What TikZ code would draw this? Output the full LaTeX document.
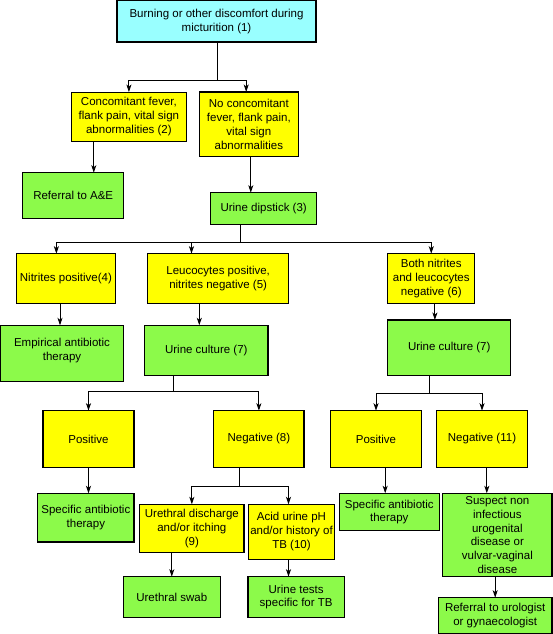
\documentclass[tikz,border=0pt]{standalone}
\usepackage{fontspec}
\setmainfont{Liberation Sans}
\usetikzlibrary{arrows.meta}
\definecolor{cyanc}{RGB}{153,255,255}
\definecolor{yellowc}{RGB}{255,255,0}
\definecolor{greenc}{RGB}{140,250,74}
\newcommand{\boxfont}{\fontsize{11.5}{13.9}\selectfont}
\tikzset{
  box/.style={draw=black, line width=1.1pt, inner sep=0pt, outer sep=0pt, align=center, font=\boxfont},
  cbox/.style={box, fill=cyanc},
  ybox/.style={box, fill=yellowc},
  gbox/.style={box, fill=greenc},
  conn/.style={line width=0.9pt},
  arr/.style={conn, -{Stealth[length=7.5pt,width=5pt,inset=2pt]}},
}
\begin{document}
\begin{tikzpicture}[x=1pt,y=-1pt]
\useasboundingbox (0,0) rectangle (553,634);
% nodes
\node[cbox, minimum width=199pt, minimum height=41.5pt] (top) at (216.5,21.25) {Burning or other discomfort during\\micturition (1)};
\node[ybox, minimum width=114.6pt, minimum height=49.3pt] (conc) at (128.9,116.7) {Concomitant fever,\\flank pain, vital sign\\abnormalities (2)};
\node[ybox, minimum width=99.1pt, minimum height=64.7pt] (noconc) at (248.85,124.35) {No concomitant\\fever, flank pain,\\vital sign\\abnormalities};
\node[gbox, minimum width=100.6pt, minimum height=45.6pt] (ae) at (73.2,195.5) {Referral to A\&E};
\node[gbox, minimum width=105.5pt, minimum height=31.6pt] (dip) at (263.65,208.5) {Urine dipstick (3)};
\node[ybox, minimum width=99.5pt, minimum height=49.6pt] (nit) at (65.95,278.5) {Nitrites positive(4)};
\node[ybox, minimum width=141.5pt, minimum height=49.6pt] (leu) at (218.15,278.5) {Leucocytes positive,\\nitrites negative (5)};
\node[ybox, minimum width=87.1pt, minimum height=49.6pt] (both) at (431.25,278.5) {Both nitrites\\and leucocytes\\negative (6)};
\node[gbox, minimum width=123pt, minimum height=56.4pt, text depth=8pt] (emp) at (62,353.5) {Empirical antibiotic\\therapy};
\node[gbox, minimum width=123.4pt, minimum height=50.4pt] (culL) at (206.3,350.5) {Urine culture (7)};
\node[gbox, minimum width=123.1pt, minimum height=55.7pt] (culR) at (449.25,347.85) {Urine culture (7)};
\node[ybox, minimum width=91pt, minimum height=56.6pt] (posL) at (88.5,439) {Positive};
\node[ybox, minimum width=90.2pt, minimum height=56.6pt] (negA) at (258.9,439) {Negative (8)};
\node[ybox, minimum width=91pt, minimum height=56.6pt] (posR) at (376,439) {Positive};
\node[ybox, minimum width=90.6pt, minimum height=56.6pt] (negB) at (482,439) {Negative (11)};
\node[gbox, minimum width=96.3pt, minimum height=48.7pt] (specL) at (85.85,517.65) {Specific antibiotic\\therapy};
\node[ybox, minimum width=104.3pt, minimum height=48.4pt] (ureth) at (191.85,528.5) {Urethral discharge\\and/or itching\\(9)};
\node[ybox, minimum width=86.4pt, minimum height=55pt] (acid) at (291.5,531.8) {Acid urine pH\\and/or history of\\TB (10)};
\node[gbox, minimum width=97.4pt, minimum height=40.6pt] (swab) at (171.8,597) {Urethral swab};
\node[gbox, minimum width=96.3pt, minimum height=40.6pt] (tbtest) at (296.15,597) {Urine tests\\specific for TB};
\node[gbox, minimum width=99.9pt, minimum height=37.4pt] (specR) at (389.25,512) {Specific antibiotic\\therapy};
\node[gbox, minimum width=109.3pt, minimum height=83.4pt] (susp) at (497.35,535) {Suspect non\\infectious\\urogenital\\disease or\\vulvar-vaginal\\disease};
\node[gbox, minimum width=113.6pt, minimum height=35.6pt] (uro) at (495.2,615.5) {Referral to urologist\\or gynaecologist};
% connectors
\coordinate (j1) at (217.6,80);
\draw[conn] (top.south -| j1) -- (j1);
\draw[arr] (j1) -| (conc.north);
\coordinate (ncin) at ([xshift=-2.65pt]noconc.north);
\draw[arr] (j1) -| (ncin);
\coordinate (cout) at ([xshift=-35.1pt]conc.south);
\draw[arr] (cout) -- (cout |- ae.north);
\coordinate (ncout) at ([xshift=1.95pt]noconc.south);
\draw[arr] (ncout) -- (ncout |- dip.north);
\coordinate (j3) at (240.9,242.3);
\draw[conn] (dip.south -| j3) -- (j3);
\coordinate (nitin) at ([xshift=-9.55pt]nit.north);
\draw[arr] (j3) -| (nitin);
\coordinate (leuin) at ([xshift=-26.65pt]leu.north);
\draw[arr] (j3) -| (leuin);
\draw[arr] (j3) -| (both.north);
\coordinate (nitout) at ([xshift=-5.95pt]nit.south);
\draw[arr] (nitout) -- (nitout |- emp.north);
\coordinate (leuout) at ([xshift=-18.85pt]leu.south);
\draw[arr] (leuout) -- (leuout |- culL.north);
\coordinate (bothout) at ([xshift=3.65pt]both.south);
\draw[arr] (bothout) -- (bothout |- culR.north);
\coordinate (j4) at (173.9,391);
\draw[conn] (culL.south -| j4) -- (j4);
\draw[arr] (j4) -| (posL.north);
\draw[arr] (j4) -| (negA.north);
\coordinate (j5) at (429.3,393.3);
\draw[conn] (culR.south -| j5) -- (j5);
\draw[arr] (j5) -| (posR.north);
\draw[arr] (j5) -| (negB.north);
\draw[arr] (posL.south) -- (posL.south |- specL.north);
\coordinate (j6) at (239.9,486);
\draw[conn] (negA.south -| j6) -- (j6);
\draw[arr] (j6) -| (ureth.north);
\coordinate (acidin) at ([xshift=-3pt]acid.north);
\draw[arr] (j6) -| (acidin);
\draw[arr] (ureth.south -| swab.north) -- (swab.north);
\coordinate (acidout) at ([xshift=-3pt]acid.south);
\draw[arr] (acidout) -- (acidout |- tbtest.north);
\coordinate (posRout) at ([xshift=9.2pt]posR.south);
\draw[arr] (posRout) -- (posRout |- specR.north);
\coordinate (negBout) at ([xshift=4.8pt]negB.south);
\draw[arr] (negBout) -- (negBout |- susp.north);
\draw[arr] (susp.south -| uro.north) -- (uro.north);
\end{tikzpicture}
\end{document}
